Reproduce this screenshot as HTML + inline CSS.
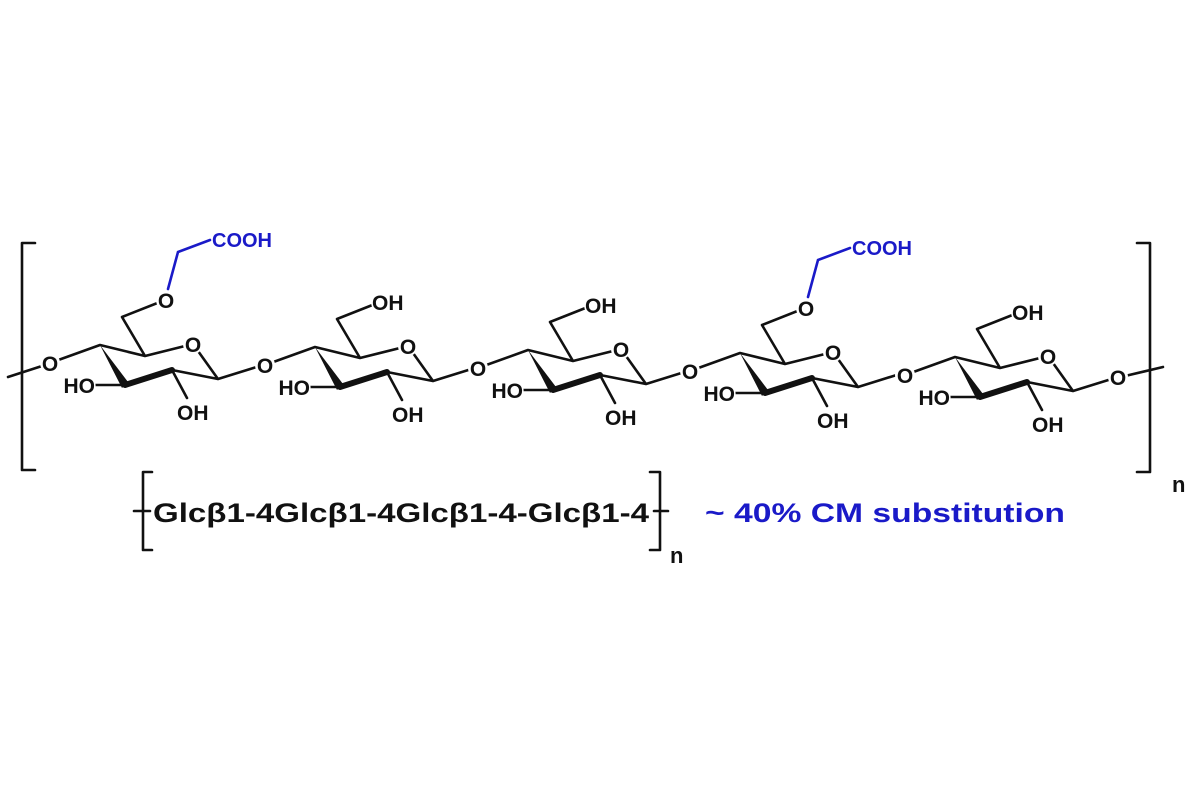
<!DOCTYPE html>
<html><head><meta charset="utf-8"><style>
html,body{margin:0;padding:0;background:#fff;}
svg{display:block}
text{font-family:"Liberation Sans",Arial,sans-serif;font-weight:bold;}
.a{font-size:21px;fill:#111;stroke:#fff;stroke-width:3px;paint-order:stroke;stroke-linejoin:round}
.b{stroke:#111;stroke-width:2.6;fill:none;stroke-linecap:round;stroke-linejoin:round}
.c{stroke:#1a1ac8;stroke-width:2.6;fill:none;stroke-linecap:round}
</style></head><body>
<svg width="1200" height="800" viewBox="0 0 1200 800" xmlns="http://www.w3.org/2000/svg">
<defs>
<g id="ring">
  <path class="b" d="M0,0 L50,-18 L95,-7 L143,-19 M143,-19 L168,16 L122,7 M95,-7 L72,-46 L115,-63 M168,16 L213,2 M75,22 L45,22 M122,7 L137,35"/>
  <polygon points="50,-18 72,25 78,19" fill="#111"/>
  <path d="M75,22 L122,7" stroke="#111" stroke-width="6" stroke-linecap="round"/>
  <circle cx="0" cy="0" r="10" fill="#fff"/>
  <circle cx="143" cy="-19" r="10" fill="#fff"/>
  <circle cx="116" cy="-63" r="10" fill="#fff"/>
</g>
</defs>

<!-- big brackets -->
<path class="b" d="M35,243 L22,243 L22,470 L35,470"/>
<path class="b" d="M1137,243 L1150,243 L1150,472 L1137,472"/>
<text x="1172" y="492" style="font-size:22px" fill="#111">n</text>

<path class="b" d="M8,377 L42,366"/>
<path class="b" d="M1125,376 L1163,367"/>

<!-- unit 1 -->
<g transform="translate(50,363)">
  <use href="#ring"/>
  <path class="c" d="M118,-74 L128,-111 L160,-123"/>
  <text class="a" x="0" y="8" text-anchor="middle">O</text>
  <text class="a" x="143" y="-11" text-anchor="middle">O</text>
  <text class="a" x="116" y="-55" text-anchor="middle">O</text>
  <text class="a" x="45" y="30" text-anchor="end">HO</text>
  <text class="a" x="127" y="57">OH</text>
  <text x="162" y="-116" style="font-size:20px" fill="#1a1ac8">COOH</text>
</g>
<!-- unit 2 -->
<g transform="translate(265,365)">
  <use href="#ring"/>
  <text class="a" x="0" y="8" text-anchor="middle">O</text>
  <text class="a" x="143" y="-11" text-anchor="middle">O</text>
  <text class="a" x="107" y="-55">OH</text>
  <text class="a" x="45" y="30" text-anchor="end">HO</text>
  <text class="a" x="127" y="57">OH</text>
</g>
<!-- unit 3 -->
<g transform="translate(478,368)">
  <use href="#ring"/>
  <text class="a" x="0" y="8" text-anchor="middle">O</text>
  <text class="a" x="143" y="-11" text-anchor="middle">O</text>
  <text class="a" x="107" y="-55">OH</text>
  <text class="a" x="45" y="30" text-anchor="end">HO</text>
  <text class="a" x="127" y="57">OH</text>
</g>
<!-- unit 4 -->
<g transform="translate(690,371)">
  <use href="#ring"/>
  <path class="c" d="M118,-74 L128,-111 L160,-123"/>
  <text class="a" x="0" y="8" text-anchor="middle">O</text>
  <text class="a" x="143" y="-11" text-anchor="middle">O</text>
  <text class="a" x="116" y="-55" text-anchor="middle">O</text>
  <text class="a" x="45" y="30" text-anchor="end">HO</text>
  <text class="a" x="127" y="57">OH</text>
  <text x="162" y="-116" style="font-size:20px" fill="#1a1ac8">COOH</text>
</g>
<!-- unit 5 -->
<g transform="translate(905,375)">
  <use href="#ring"/>
  <circle cx="213" cy="2" r="10" fill="#fff"/>
  <text class="a" x="0" y="8" text-anchor="middle">O</text>
  <text class="a" x="143" y="-11" text-anchor="middle">O</text>
  <text class="a" x="107" y="-55">OH</text>
  <text class="a" x="45" y="30" text-anchor="end">HO</text>
  <text class="a" x="127" y="57">OH</text>
  <text class="a" x="213" y="10" text-anchor="middle">O</text>
</g>

<!-- bottom formula -->
<path class="b" d="M152,472 L143,472 L143,550 L152,550"/>
<path class="b" d="M650,472 L660,472 L660,550 L650,550"/>
<path class="b" d="M134,511 L150,511 M654,511 L668,511"/>
<text x="153" y="522" style="font-size:27px" fill="#111" textLength="496" lengthAdjust="spacingAndGlyphs">Glcβ1-4Glcβ1-4Glcβ1-4-Glcβ1-4</text>
<text x="670" y="563" style="font-size:22px" fill="#111">n</text>
<text x="705" y="522" style="font-size:27px" fill="#1a1ac8" textLength="360" lengthAdjust="spacingAndGlyphs">~ 40% CM substitution</text>
</svg>
</body></html>
